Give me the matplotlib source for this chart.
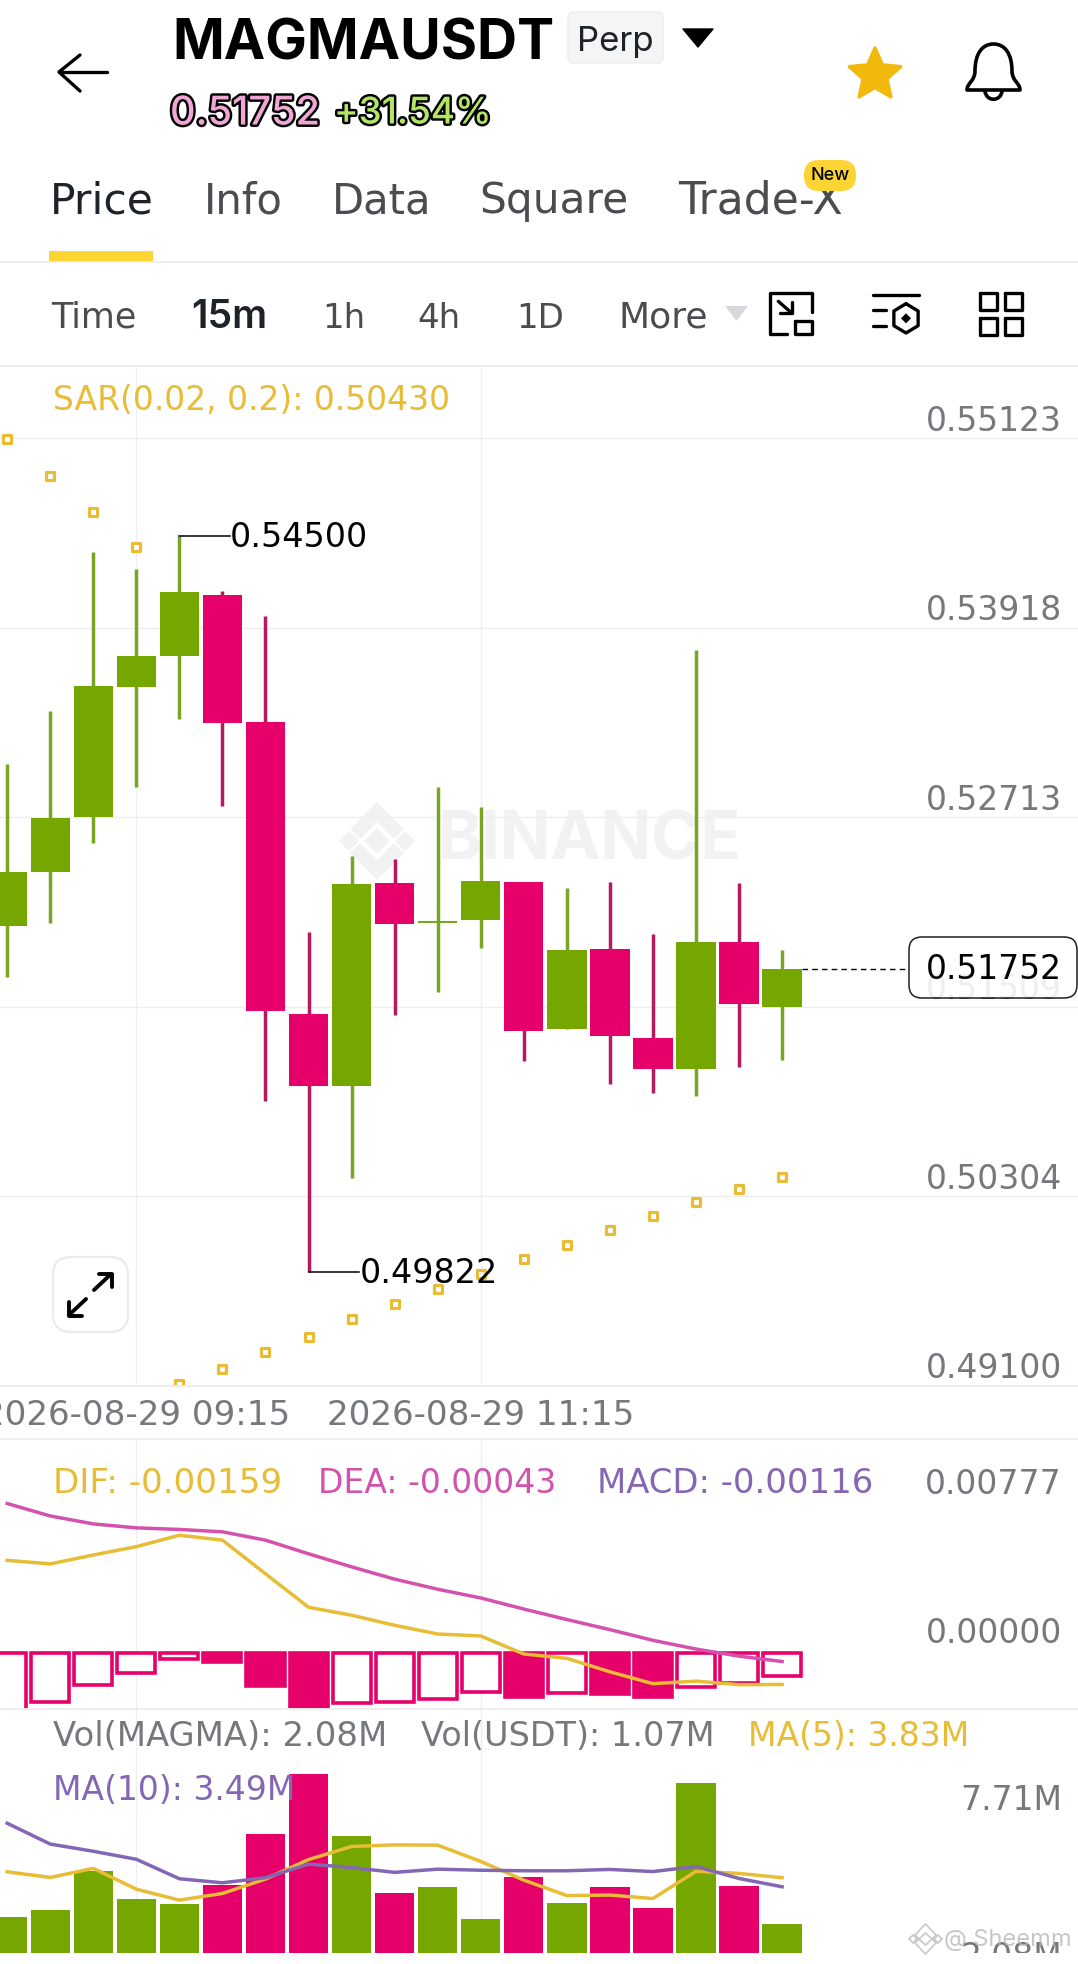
import numpy as np
import matplotlib
matplotlib.use('Agg')
import matplotlib.pyplot as plt
import matplotlib.patheffects as pe
from matplotlib.patches import FancyBboxPatch, Polygon, PathPatch, Rectangle
from matplotlib.path import Path

plt.rcParams['font.family'] = ['DejaVu Sans']

W, H = 1078, 1965

opens = [0.52021, 0.52366, 0.52716, 0.53538, 0.53737, 0.54125, 0.53320, 0.51462, 0.51007, 0.52298,
         0.52051, 0.52059, 0.52303, 0.51367, 0.51875, 0.51314, 0.51117, 0.51922, 0.51511]
closes = [0.52364, 0.52710, 0.53545, 0.53739, 0.54144, 0.53310, 0.51485, 0.51007, 0.52290, 0.52034,
          0.52051, 0.52307, 0.51356, 0.51871, 0.51324, 0.51117, 0.51922, 0.51526, 0.51752]
highs = [0.53051, 0.53390, 0.54400, 0.54290, 0.54500, 0.54151, 0.53990, 0.51987, 0.52466, 0.52449,
         0.52905, 0.52778, 0.52303, 0.52261, 0.52301, 0.51970, 0.53776, 0.52299, 0.51871]
lows = [0.51700, 0.52043, 0.52549, 0.52903, 0.53337, 0.52782, 0.50911, 0.49822, 0.50420, 0.51456,
        0.51605, 0.51883, 0.51166, 0.51367, 0.51017, 0.50964, 0.50943, 0.51127, 0.51171]
sar = [0.55117, 0.54881, 0.54653, 0.54432, 0.49111, 0.49207, 0.49319, 0.49414, 0.49526, 0.49621,
       0.49717, 0.49813, 0.49908, 0.49996, 0.50092, 0.50179, 0.50267, 0.50354, 0.50430]
price_ticks = [0.55123, 0.53918, 0.52713, 0.51509, 0.50304, 0.49100]

dif = [0.00468, 0.00450, 0.00495, 0.00537, 0.00595, 0.00570, 0.00400, 0.00231, 0.00191, 0.00140,
       0.00096, 0.00086, -0.00005, -0.00027, -0.00095, -0.00155, -0.00142, -0.00160, -0.00159]
dea = [0.00755, 0.00692, 0.00652, 0.00632, 0.00624, 0.00612, 0.00570, 0.00501, 0.00435, 0.00373,
       0.00322, 0.00278, 0.00222, 0.00169, 0.00118, 0.00064, 0.00020, -0.00016, -0.00043]
macd = [-0.00291, -0.00249, -0.00164, -0.00100, -0.00031, -0.00044, -0.00169, -0.00275, -0.00255, -0.00246,
        -0.00231, -0.00195, -0.00224, -0.00202, -0.00209, -0.00220, -0.00173, -0.00149, -0.00116]
macd_filled = [0, 0, 0, 0, 0, 1, 1, 1, 0, 0, 0, 0, 1, 0, 1, 1, 0, 0, 0]

volume = [2.35, 2.62, 4.07, 3.02, 2.86, 3.55, 5.45, 7.71, 5.38, 3.24,
          3.48, 2.27, 3.87, 2.89, 3.49, 2.68, 7.38, 3.51, 2.08]
ma5 = [4.05, 3.84, 4.18, 3.40, 2.99, 3.24, 3.78, 4.51, 5.00, 5.06,
       5.05, 4.44, 3.74, 3.16, 3.18, 3.05, 4.07, 3.99, 3.83]
ma10 = [5.87, 5.09, 4.82, 4.52, 3.79, 3.64, 3.83, 4.34, 4.21, 4.03,
        4.15, 4.11, 4.09, 4.09, 4.14, 4.06, 4.25, 3.80, 3.49]

time_ticks = [3, 11]
time_labels = ['2026-08-29 09:15', '2026-08-29 11:15']

GREEN = '#76A600'
GREEN_WICK = '#7BA422'
RED = '#E5006A'
RED_WICK = '#B7195F'
GOLD = '#E8BC35'
PINK = '#D352AE'
PURPLE = '#8367B5'
GRAY = '#75787C'
GRID = '#EEEEEE'
DARK = '#1E2329'
MID = '#4A4C50'
LABEL = 23.8

x = np.arange(len(closes))
xlim = (-7.2 / 43.05, (W - 7.2) / 43.05)


def px_axes(y0, y1, zorder):
    ax = fig.add_axes([0, 1 - y1 / H, 1, (y1 - y0) / H], zorder=zorder)
    ax.patch.set_alpha(0)
    for s in ax.spines.values():
        s.set_visible(False)
    return ax


def chart_axes(y0, y1, ylim):
    ax = px_axes(y0, y1, 2)
    ax.set_xlim(xlim)
    ax.set_ylim(ylim)
    ax.set_xticks(time_ticks)
    ax.set_xticklabels([])
    ax.set_yticks([])
    ax.tick_params(length=0)
    ax.grid(axis='x', color=GRID, lw=1)
    ax.set_axisbelow(True)
    return ax


def stroke(points, color='black', lw=2.4, closed=False):
    pts = list(points)
    if closed:
        pts.append(pts[0])
    xs, ys = zip(*pts)
    ui.plot(xs, ys, color=color, lw=lw, solid_capstyle='round', solid_joinstyle='round', zorder=4)


def box(x0, y0, x1, y1, r, face, edge='none', lw=1.0, z=3, alpha=None):
    p = FancyBboxPatch((x0, y0), x1 - x0, y1 - y0, boxstyle='round,pad=0,rounding_size=%g' % r,
                       fc=face, ec=edge, lw=lw, zorder=z, alpha=alpha)
    ui.add_patch(p)


def side_label(ax, val, text, dy=18):
    return ax.annotate(text, (1, val), xycoords=('axes fraction', 'data'), xytext=(-16, dy),
                       textcoords='offset pixels', ha='right', va='center', fontsize=LABEL, color=GRAY)


fig = plt.figure(figsize=(W / 100, H / 100), dpi=100, facecolor='white')

back = px_axes(0, H, 0)
back.set_xlim(0, W)
back.set_ylim(H, 0)
back.axis('off')
ui = px_axes(0, H, 5)
ui.set_xlim(0, W)
ui.set_ylim(H, 0)
ui.axis('off')

# watermark behind the candles
for pts in ([(377, 803), (404, 830), (394, 840), (377, 823), (360, 840), (350, 830)],
            [(377, 881), (404, 854), (394, 844), (377, 861), (360, 844), (350, 854)],
            [(377, 829), (390, 842), (377, 855), (364, 842)],
            [(349, 832), (359, 842), (349, 852), (339, 842)],
            [(405, 832), (415, 842), (405, 852), (395, 842)]):
    back.add_patch(Polygon(pts, fc='#F2F2F2', ec='none'))
back.text(590, 842, 'BINANCE', ha='center', va='center', fontsize=48, fontweight='bold', color='#F2F2F2', family='Inter')

# price panel
scale = 15734.0
top = 0.55123 + (439 - 367) / scale
price = chart_axes(367, 1387, (0.491, top))
price.set_yticks(price_ticks)
price.set_yticklabels([])
price.grid(axis='y', color=GRID, lw=1)
price.set_xticklabels(time_labels, fontsize=24.6, color=GRAY)
price.tick_params(axis='x', pad=8.5)
for t in price.get_xticklabels():
    t.set_clip_on(False)
for val in price_ticks:
    side_label(price, val, '%.5f' % val)

for i in x:
    up = closes[i] >= opens[i]
    price.vlines(i, lows[i], highs[i], color=GREEN_WICK if up else RED_WICK, lw=2.5, zorder=3)
    if closes[i] == opens[i]:
        price.hlines(opens[i], i - 0.456, i + 0.456, color=GREEN_WICK, lw=1.5, zorder=3)
    else:
        price.bar(i, abs(closes[i] - opens[i]), bottom=min(opens[i], closes[i]), width=0.913,
                  color=GREEN if up else RED, zorder=4)
price.scatter(x, sar, marker='s', s=26, facecolor='white', edgecolor=GOLD, linewidth=2.3, zorder=3, clip_on=True)

# high / low markers
i_high = int(np.argmax(highs))
i_low = int(np.argmin(lows))
price.plot([i_high, i_high + 1.18], [highs[i_high]] * 2, color='black', lw=1.1, zorder=5)
price.plot([i_low, i_low + 1.17], [lows[i_low]] * 2, color='black', lw=1.1, zorder=5)
price.text(i_high + 1.18, highs[i_high], '%.5f' % highs[i_high], fontsize=24, va='center', color='black', zorder=6)
price.text(i_low + 1.18, lows[i_low], '%.5f' % lows[i_low], fontsize=24, va='center', color='black', zorder=6)

# last price tag
price.plot([18.46, 20.85], [closes[-1]] * 2, color='black', lw=1, ls=(0, (4, 3)), zorder=5)
box(909, 938, 1077, 999, 13, 'white', 'black', 1.1, alpha=0.88)
ui.text(1062, 970, '%.5f' % closes[-1], ha='right', va='center', fontsize=LABEL, color='black', zorder=4)

# macd panel
macd_scale = 19800.0
mp = chart_axes(1440, 1710, (-56 / macd_scale, 214 / macd_scale))
mp.bar(x, macd, width=0.885, color=[RED if f else 'white' for f in macd_filled], edgecolor=RED, lw=2.6, zorder=2)
mp.plot(x, dea, color=PINK, lw=2.5, zorder=3)
mp.plot(x, dif, color=GOLD, lw=2.5, zorder=3)
side_label(mp, 0, '0.00000', 20)
side_label(mp, 0.00777, '0.00777', 16)

# volume panel
vol_scale = 26.7
vp = chart_axes(1710, 1954, (1.01, 1.01 + 244 / vol_scale))
vp.bar(x, np.array(volume) - 1.01, bottom=1.01, width=0.913,
       color=[GREEN if c >= o else RED for o, c in zip(opens, closes)], zorder=2)
vp.plot(x, ma5, color=GOLD, lw=2.5, zorder=3)
vp.plot(x, ma10, color=PURPLE, lw=2.5, zorder=3)
side_label(vp, 7.71, '7.71M', -25)
# this one is cut by the panel edge in the original too
t = side_label(vp, 1.01, '2.08M', -4)
t.set_annotation_clip(False)
t.set_clip_on(True)
t.set_clip_box(vp.bbox)

for yy in (262.5, 366.5, 1387, 1440, 1710):
    ui.plot([0, W], [yy, yy], color=GRID, lw=1.4, zorder=1)

# panel legends
ui.text(53, 400.5, 'SAR(0.02, 0.2): 0.50430', color=GOLD, fontsize=LABEL, va='center')
ui.text(53, 1484, 'DIF: -0.00159', color=GOLD, fontsize=24.6, va='center')
ui.text(318, 1484, 'DEA: -0.00043', color=PINK, fontsize=LABEL, va='center')
ui.text(597, 1484, 'MACD: -0.00116', color=PURPLE, fontsize=24.4, va='center')
ui.text(53, 1737, 'Vol(MAGMA): 2.08M', color=GRAY, fontsize=24.4, va='center')
ui.text(421, 1737, 'Vol(USDT): 1.07M', color=GRAY, fontsize=24.1, va='center')
ui.text(748, 1737, 'MA(5): 3.83M', color=GOLD, fontsize=LABEL, va='center')
ui.text(53, 1791, 'MA(10): 3.49M', color=PURPLE, fontsize=LABEL, va='center')

# sheemm mark, bottom right
for pts in ([(925.5, 1925), (936, 1936), (932, 1940), (925.5, 1934), (919, 1940), (915, 1936)],
            [(925.5, 1955), (936, 1944), (932, 1940), (925.5, 1946), (919, 1940), (915, 1944)],
            [(913, 1936), (917, 1940), (913, 1944), (909, 1940)],
            [(938, 1936), (942, 1940), (938, 1944), (934, 1940)]):
    ui.add_patch(Polygon(pts, fc='none', ec='#C8C8C8', lw=1.2, zorder=6))
ui.text(1072, 1940, '@ Sheemm', color='#B9B9B9', alpha=0.8, fontsize=17, ha='right', va='center', zorder=6, family='Inter')

# header
ui.text(172, 59, 'MAGMAUSDT', fontsize=40, fontweight='bold', color='black', va='baseline', family='Inter')
box(568, 13, 663, 64, 6, '#F5F5F5', '#EDEDED', 1)
ui.text(615, 42, 'Perp', fontsize=25, color=DARK, ha='center', va='center', zorder=4, family='Inter')
ui.add_patch(Polygon([(683, 30), (713, 30), (698, 48)], fc='black', ec='black', lw=1, joinstyle='round'))
stroke([(60, 73), (107, 73)])
stroke([(80, 56), (59, 73), (80, 92)])

star = [(875 + (r * np.sin(a)), 76 + (-r * np.cos(a))) for a, r in
        zip(np.arange(10) * np.pi / 5, [27, 12.5] * 5)]
ui.add_patch(Polygon(star, fc='#F0B90B', ec='#F0B90B', lw=2.5, joinstyle='round'))

bell = Path([(975, 72), (975, 55), (982, 45), (993.5, 45), (1005, 45), (1012, 55), (1012, 72),
             (1012, 82), (1020, 84), (1020, 91), (967, 91), (967, 84), (975, 82), (975, 72),
             (985, 92), (986, 103), (1001, 103), (1002, 92)],
            [Path.MOVETO, Path.CURVE4, Path.CURVE4, Path.CURVE4, Path.CURVE4, Path.CURVE4, Path.CURVE4,
             Path.CURVE4, Path.CURVE4, Path.CURVE4, Path.LINETO, Path.CURVE4, Path.CURVE4, Path.CURVE4,
             Path.MOVETO, Path.CURVE4, Path.CURVE4, Path.CURVE4])
ui.add_patch(PathPatch(bell, fc='none', ec='black', lw=2.6, joinstyle='round'))

ui.text(170, 115, '0.51752', fontsize=28.5, color='#F2A6D6', va='center', fontweight='medium', family='Inter',
        path_effects=[pe.withStroke(linewidth=3.5, foreground='black')])
ui.text(334, 115, '+31.54%', fontsize=26.5, color='#B4E466', va='center', fontweight='medium', family='Inter',
        path_effects=[pe.withStroke(linewidth=3.5, foreground='black')])

# tabs
ui.add_patch(Rectangle((49, 252), 104, 10, fc='#FCD535', ec='none'))
ui.text(50, 213, 'Price', fontsize=30.6, color=DARK, va='baseline')
ui.text(204, 213, 'Info', fontsize=30, color=MID, va='baseline')
ui.text(332, 213, 'Data', fontsize=30, color=MID, va='baseline')
ui.text(479, 213, 'Square', fontsize=30.4, color=MID, va='baseline')
ui.text(678, 213, 'Trade-X', fontsize=31.8, color=MID, va='baseline')
box(804, 161, 856, 192, 15, '#FCD535', z=4)
ui.text(830, 176, 'New', fontsize=13, color='black', ha='center', va='center', zorder=5, fontweight='medium', family='Inter')

# interval row
ui.text(51, 328, 'Time', fontsize=25.2, color=MID, va='baseline')
ui.text(191, 328, '15m', fontsize=28, color=DARK, va='baseline', fontweight='semibold', family='Inter')
ui.text(322, 328, '1h', fontsize=24.5, color=MID, va='baseline')
ui.text(417, 328, '4h', fontsize=24.5, color=MID, va='baseline')
ui.text(516, 328, '1D', fontsize=24.5, color=MID, va='baseline')
ui.text(619, 328, 'More', fontsize=26, color=MID, va='baseline')
ui.add_patch(Polygon([(725, 307), (748, 307), (736.5, 322)], fc='#D5D8DC', ec='none'))

# toolbar icons
def ic(px, py):
    return (750 + px / 3, 270 + py / 3)

stroke([ic(112, 195), ic(60, 195), ic(60, 72), ic(185, 72), ic(185, 130)])
stroke([ic(135, 155), ic(185, 155), ic(185, 195), ic(135, 195)], closed=True)
stroke([ic(85, 97), ic(125, 132)])
stroke([ic(125, 100), ic(125, 132), ic(90, 132)])
stroke([ic(368, 77), ic(508, 77)])
stroke([ic(368, 124), ic(408, 124)])
stroke([ic(368, 171), ic(408, 171)])
hexa = [ic(468 + 42 * np.sin(a), 148 - 44 * np.cos(a)) for a in np.arange(6) * np.pi / 3]
stroke(hexa, closed=True)
ui.add_patch(Polygon([ic(468, 133), ic(483, 148), ic(468, 163), ic(453, 148)], fc='black', ec='none'))
for (a, b) in ((690, 72), (765, 72), (690, 147), (765, 147)):
    stroke([ic(a, b), ic(a + 52, b), ic(a + 52, b + 50), ic(a, b + 50)], closed=True)

# expand button
box(53, 1258, 128, 1333, 18, 'white', '#EBEBEB', 1.6)
stroke([(94, 1291), (111, 1275)], lw=2.8)
stroke([(99, 1275), (112, 1275), (112, 1288)], lw=2.8)
stroke([(86, 1300), (69, 1316)], lw=2.8)
stroke([(69, 1303), (69, 1317), (82, 1317)], lw=2.8)

fig.savefig('out.png', dpi=100, facecolor='white')
